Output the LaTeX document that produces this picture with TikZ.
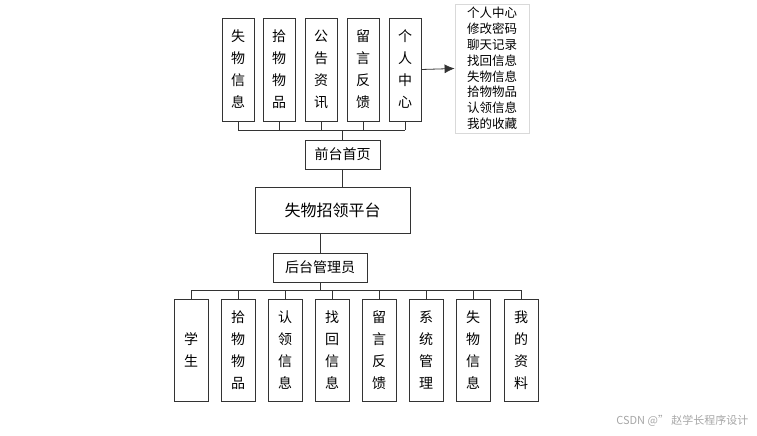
\documentclass[tikz,border=0pt]{standalone}
\usepackage{fontspec}
\usetikzlibrary{arrows.meta}
\setmainfont{Noto Sans CJK SC}
\begin{document}
\begin{tikzpicture}[x=1pt,y=-1pt,
  box/.style={draw=black!80,fill=white,line width=0.8pt,inner sep=0pt,font=\fontsize{14}{22}\selectfont,align=center},
  bus/.style={draw=black!80,line width=0.8pt}]
\useasboundingbox (0,0) rectangle (757,436);
\foreach \n/\x/\t in {a/238/失\\物\\信\\息, b/279/拾\\物\\物\\品, c/321/公\\告\\资\\讯, d/363/留\\言\\反\\馈, e/405/个\\人\\中\\心}
  \node[box,minimum width=32pt,minimum height=103pt] (\n) at (\x,69.5) {\t};
\node[box,minimum width=75pt,minimum height=29pt] (qt) at (342.5,154.5) {前台首页};
\node[box,minimum width=155pt,minimum height=46pt,font=\fontsize{16}{18}\selectfont] (main) at (332.5,210) {失物招领平台};
\node[box,minimum width=94pt,minimum height=29pt] (ht) at (320,267.5) {后台管理员};
\node[draw=black!15,fill=white,line width=0.8pt,minimum width=74pt,minimum height=129pt,inner sep=0pt,align=left,font=\fontsize{12.5}{15.8}\selectfont] (list) at (492,68.5) {个人中心\\修改密码\\聊天记录\\找回信息\\失物信息\\拾物物品\\认领信息\\我的收藏};
\draw[bus,-{Latex[length=10pt,width=9pt]}] (e.east) -- (list.west);
\coordinate (tb) at (342.5,130);
\foreach \n in {a,b,c,d,e} \draw[bus] (\n.south) -- (\n.south |- tb);
\draw[bus] (a.south |- tb) -- (e.south |- tb);
\draw[bus] (tb) -- (qt.north);
\draw[bus] (qt.south) -- (qt.south |- main.north);
\draw[bus] (ht.north |- main.south) -- (ht.north);
\foreach \n/\x/\t in {p/191/学\\生, q/238/拾\\物\\物\\品, r/285/认\\领\\信\\息, s/332/找\\回\\信\\息, t/379/留\\言\\反\\馈, u/426/系\\统\\管\\理, v/473/失\\物\\信\\息, w/521/我\\的\\资\\料}
  \node[box,minimum width=34pt,minimum height=102pt] (\n) at (\x,350) {\t};
\coordinate (bb) at (320,290);
\foreach \n in {p,q,r,s,t,u,v,w} \draw[bus] (\n.north) -- (\n.north |- bb);
\draw[bus] (p.north |- bb) -- (w.north |- bb);
\draw[bus] (ht.south) -- (bb);
\node[text=black!35,font=\fontsize{11}{12}\selectfont,anchor=east] (wm) at (752,421) {CSDN @" 赵学长程序设计};
\end{tikzpicture}
\end{document}
